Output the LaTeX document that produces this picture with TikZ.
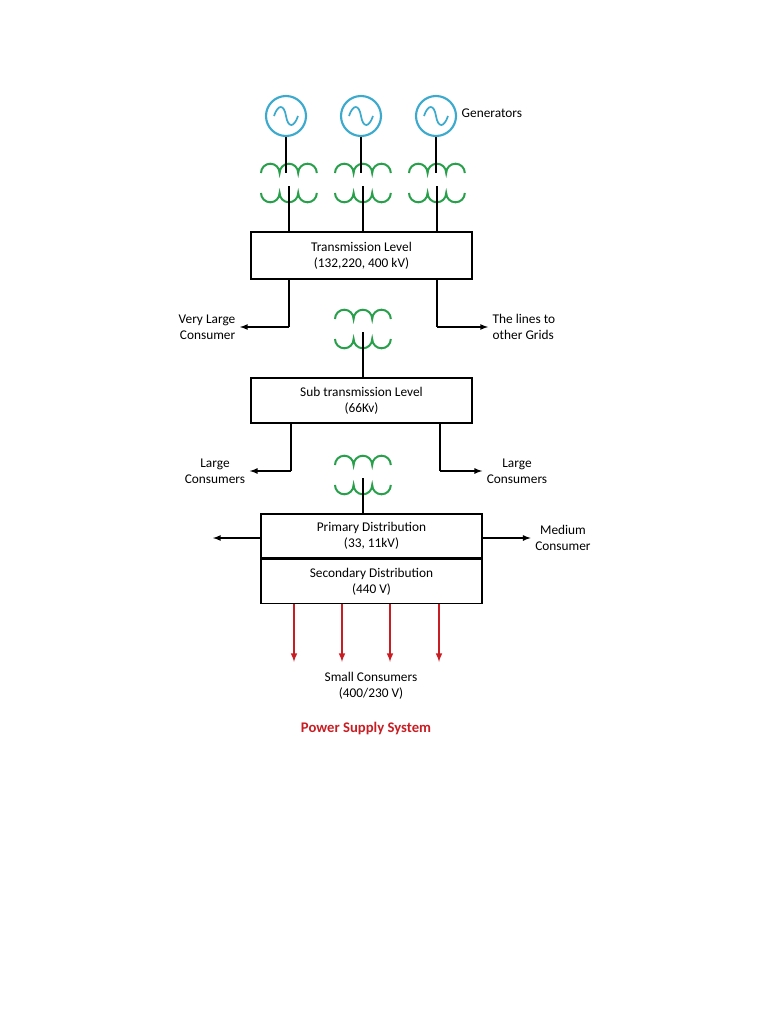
\documentclass[tikz,border=0pt]{standalone}
\usepackage{fontspec}
\setmainfont{Carlito}
\begin{document}
\begin{tikzpicture}[x=0.75pt,y=-0.75pt,
  gen/.style={circle,draw=genc,line width=1.6pt,minimum size=30pt,inner sep=0},
  box/.style={draw,line width=1pt,align=center,font=\fontsize{10}{12}\selectfont,inner sep=0},
  lbl/.style={align=center,font=\fontsize{10}{12}\selectfont},
  ln/.style={line width=1pt},
  arr/.style={line width=1pt,-latex},
  rarr/.style={line width=1.2pt,draw=redc,-latex}]
\definecolor{genc}{RGB}{60,170,205}
\definecolor{trc}{RGB}{40,160,75}
\definecolor{redc}{RGB}{200,30,35}
\useasboundingbox (0,0) rectangle (768,1024);
\newcommand{\xfmr}[2]{%
  \draw[trc,line width=1.5pt] (#1-28,#2-8) \foreach \i in {0,1,2}{ arc[start angle=180,end angle=360,radius=9.3] } -- ++(0,0);
  \draw[trc,line width=1.5pt] (#1-28,#2+12) \foreach \i in {0,1,2}{ arc[start angle=180,end angle=0,radius=9.3] };
}
\foreach \x/\n in {286/g1,361/g2,436/g3}{
  \node[gen] (\n) at (\x,116) {};
  \draw[genc,line width=1.3pt] (\x-12,116) .. controls (\x-8,104) and (\x-2,104) .. (\x,116) .. controls (\x+2,128) and (\x+8,128) .. (\x+12,116);
}
\node[lbl,anchor=west] (glab) at (457,113) {Generators};
\xfmr{289}{181}\xfmr{363}{181}\xfmr{437}{181}
\draw[ln] (g1.south) -- (g1.south|-0,173);
\draw[ln] (g2.south) -- (g2.south|-0,173);
\draw[ln] (g3.south) -- (g3.south|-0,173);
\node[box,minimum width=221*0.75pt,minimum height=47*0.75pt] (tl) at (361.5,255.5) {Transmission Level\\(132,220, 400 kV)};
\foreach \x in {289,363,437}{ \draw[ln] (\x,186) -- (tl.north-|\x,0); }
\coordinate (a1) at (289,327); \coordinate (a2) at (437,327);
\node[lbl,align=right,anchor=east] (vlc) at (240,327) {Very Large\\Consumer};
\node[lbl,align=left,anchor=west] (og) at (488,327) {The lines to\\other Grids};
\draw[ln] (tl.south-|a1) -- (a1); \draw[arr] (a1) -- (vlc.east);
\draw[ln] (tl.south-|a2) -- (a2); \draw[arr] (a2) -- (og.west);
\xfmr{363}{327}
\draw[ln] (tl.south-|a1) ++(74,0) coordinate (c1);
\node[box,minimum width=221*0.75pt,minimum height=45*0.75pt] (st) at (361.5,400.5) {Sub transmission Level\\(66Kv)};
\draw[ln] (363,332) -- (st.north-|363,0);
\coordinate (b1) at (291,471); \coordinate (b2) at (440,471);
\node[lbl] (lc1) at (215,471) {Large\\Consumers};
\node[lbl] (lc2) at (517,471) {Large\\Consumers};
\draw[ln] (st.south-|b1) -- (b1); \draw[arr] (b1) -- (lc1.east);
\draw[ln] (st.south-|b2) -- (b2); \draw[arr] (b2) -- (lc2.west);
\xfmr{363}{473}
\node[box,minimum width=221*0.75pt,minimum height=44*0.75pt] (pd) at (371.5,536) {Primary Distribution\\(33, 11kV)};
\node[box,minimum width=221*0.75pt,minimum height=44*0.75pt,anchor=north] (sd) at (pd.south) {Secondary Distribution\\(440 V)};
\draw[line width=2.5pt] (pd.south west) -- (pd.south east);
\draw[ln] (363,478) -- (pd.north-|363,0);
\coordinate (lft) at (213,538);
\node[lbl] (mc) at (563,538) {Medium\\Consumer};
\draw[arr] (pd.west|-lft) -- (lft);
\draw[arr] (pd.east|-lft) -- (mc.west);
\node[lbl] (sc) at (371,686) {Small Consumers\\(400/230 V)};
\foreach \x in {294,342,390,439}{ \draw[rarr] (sd.south-|\x,0) -- (\x,662); }
\node[font=\fontsize{11}{13}\selectfont\bfseries,text=redc] (title) at (366,728) {Power Supply System};
\end{tikzpicture}
\end{document}
